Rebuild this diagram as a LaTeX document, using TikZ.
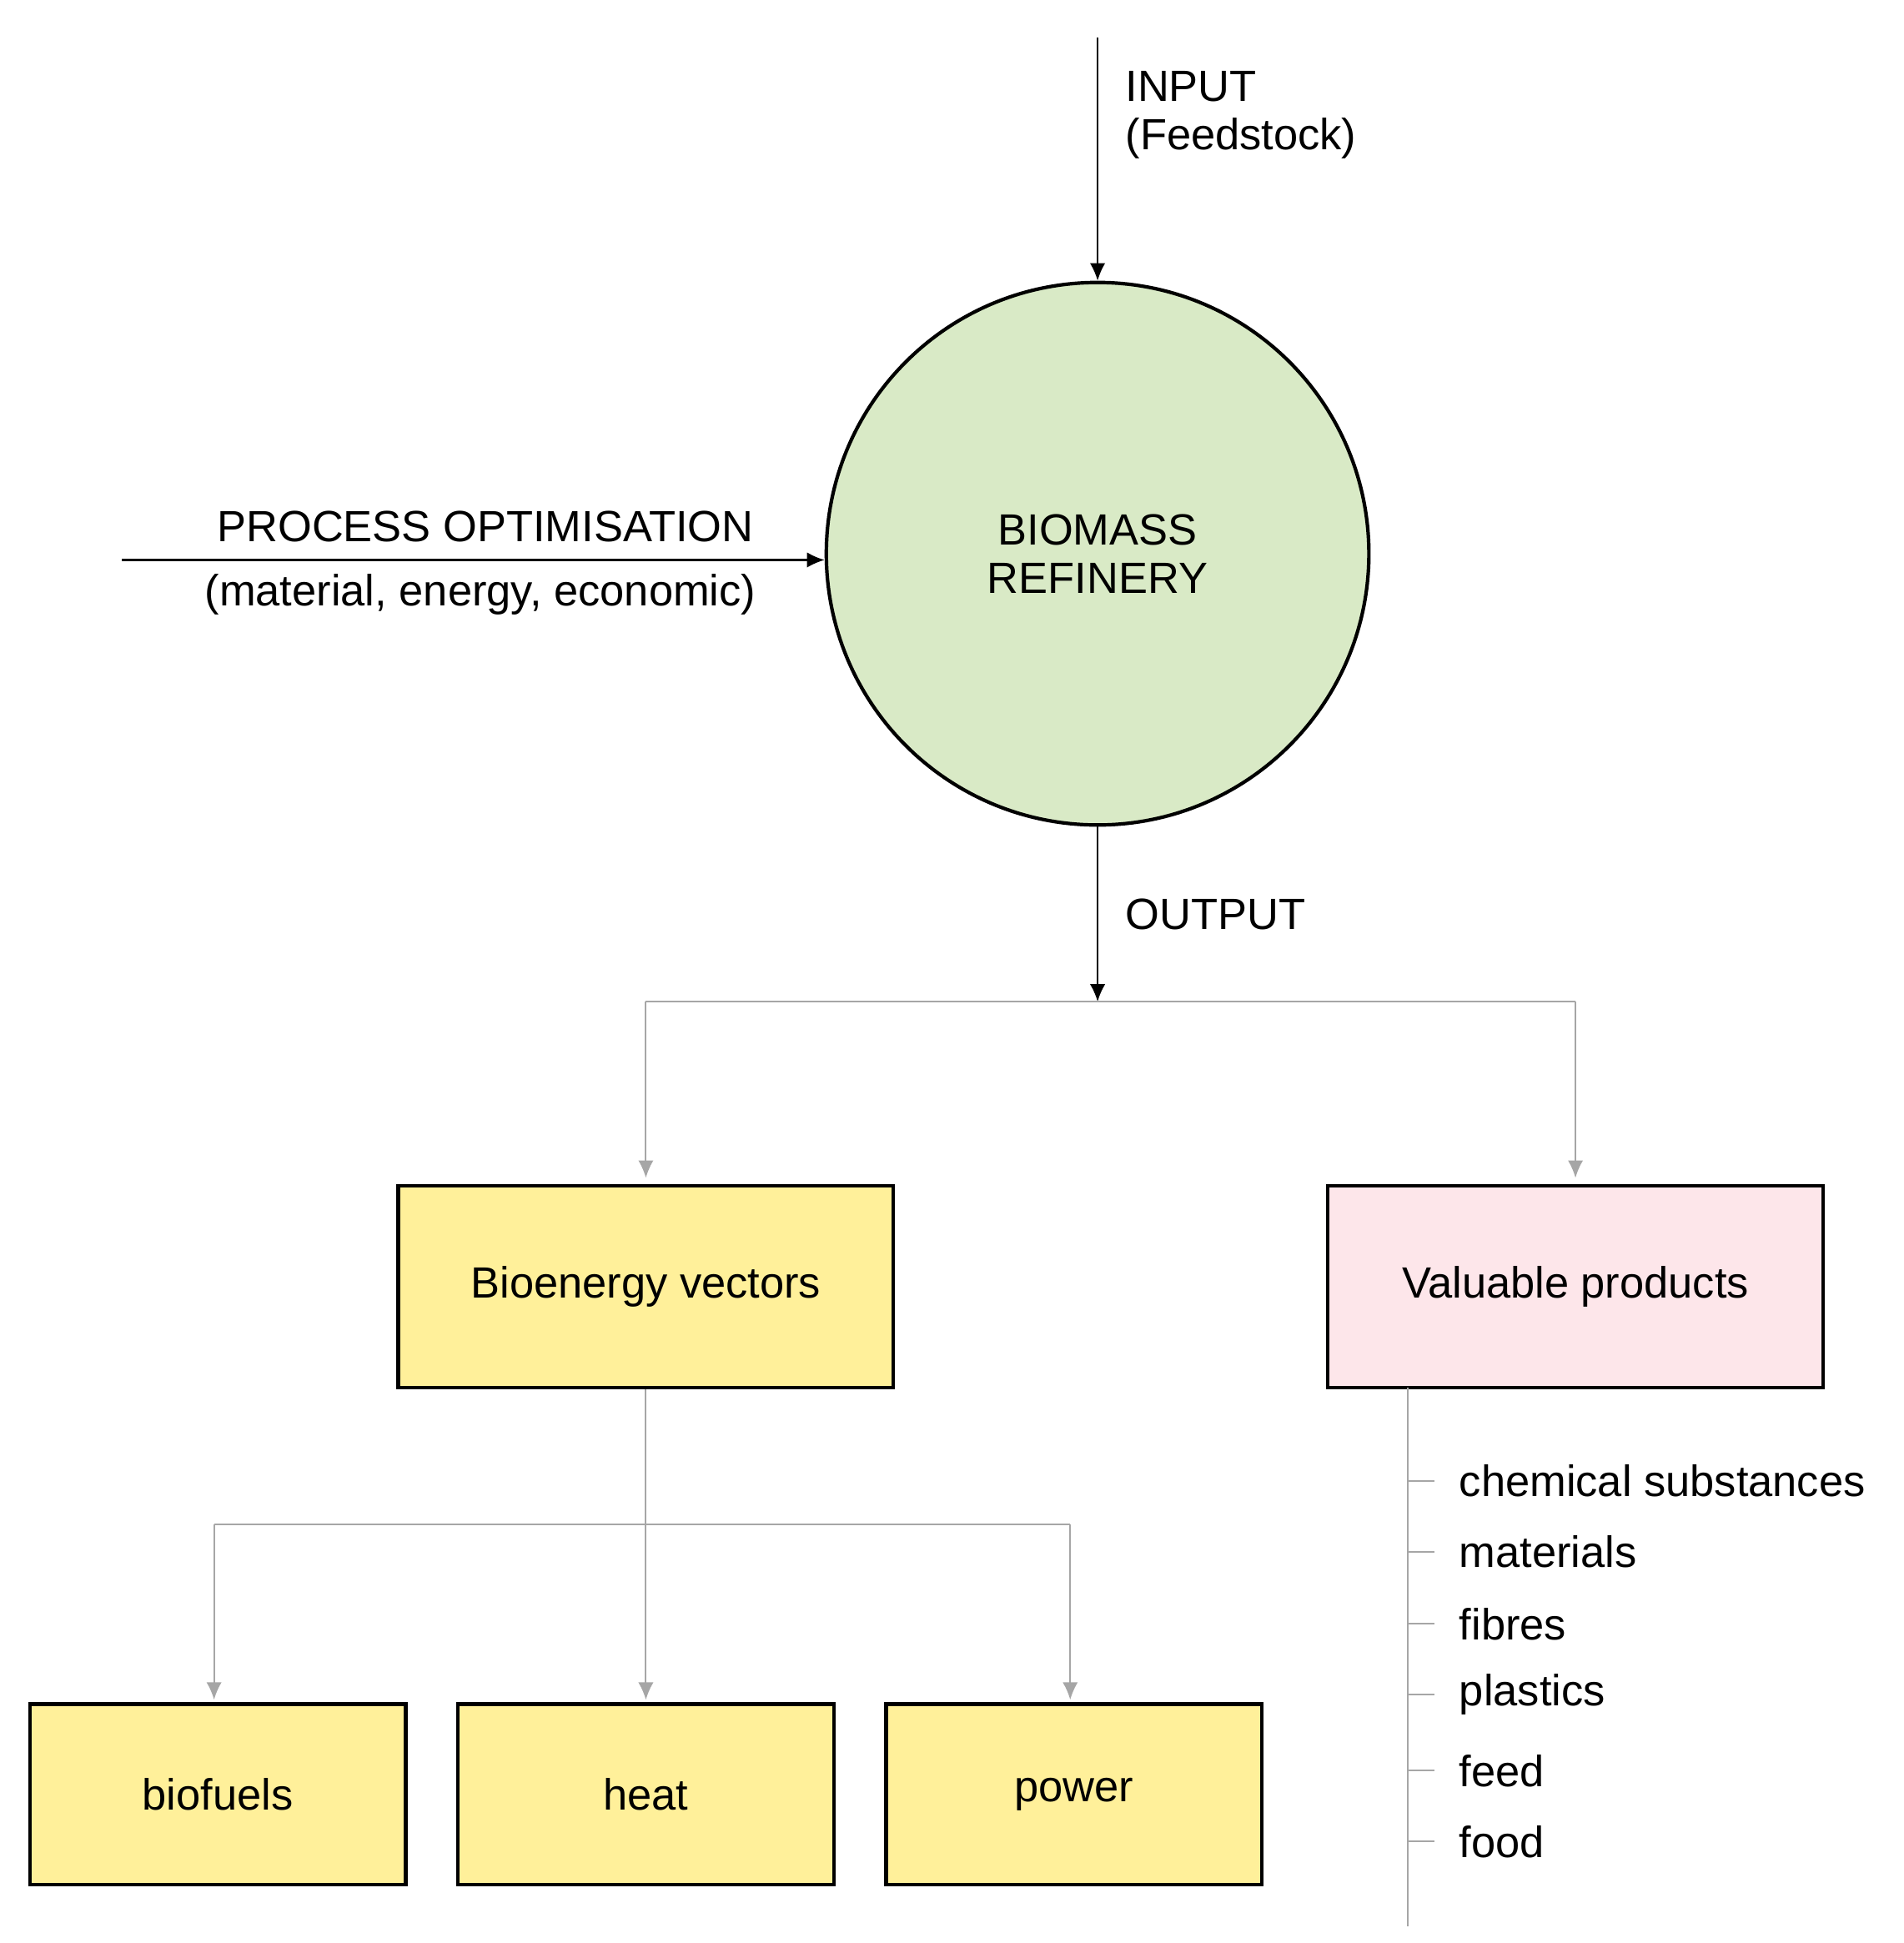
\documentclass[tikz,border=0pt]{standalone}
\usepackage{fontspec}
\setmainfont{Liberation Sans}
\usetikzlibrary{arrows.meta}
\definecolor{boxyellow}{HTML}{FFF09A}
\definecolor{boxpink}{HTML}{FDE6EA}
\definecolor{circgreen}{HTML}{D9EAC6}
\begin{document}
\begin{tikzpicture}[
		font=\fontsize{10}{11}\selectfont,
		big/.style={rectangle, draw, thick, minimum width=3.98cm, minimum height=1.62cm, align=center},
		small/.style={rectangle, draw, thick, fill=boxyellow, minimum width=3.02cm, minimum height=1.45cm, align=center},
		arrow/.style={-{Latex[length=4pt,width=3.5pt]}},
		link/.style={gray!70},
		item/.style={anchor=west, inner sep=0pt}
	]
		\useasboundingbox (0,0) rectangle (15.3,-15.615);
		% Refinery
		\node[circle, draw, thick, fill=circgreen, minimum size=4.36cm, align=center] (refinery) at (8.82,-4.45) {BIOMASS\\REFINERY};
		\coordinate (in) at (8.82,-0.3);
		\coordinate (opt) at (0.98,-4.5);
		\coordinate (split) at (8.82,-8.05);
		\draw[arrow] (in) -- (refinery.north) node[pos=0.32, right=0.1cm, align=left] {INPUT\\(Feedstock)};
		\draw[arrow] (opt) -- (refinery.west |- opt);
		\node at (3.9,-4.23) {PROCESS OPTIMISATION};
		\node at (3.86,-4.78) {(material, energy, economic)};
		\draw[arrow] (refinery.south) -- (split) node[midway, right=0.1cm] {OUTPUT};
		
		% Output boxes
		\node[big, fill=boxyellow] (vectors) at (5.19,-10.34) {Bioenergy vectors};
		\node[big, fill=boxpink] (products) at (12.66,-10.34) {Valuable products};
		\draw[link] (vectors.north |- split) -- (products.north |- split);
		\draw[arrow, link, draw=gray!70] (vectors.north |- split) -- ([yshift=0.05cm]vectors.north);
		\draw[arrow, link, draw=gray!70] (products.north |- split) -- ([yshift=0.05cm]products.north);
		\path (vectors.north |- split) -- (products.north |- split);
		
		% Bioenergy vectors
		\node[small] (biofuels) at (1.75,-14.42) {biofuels};
		\node[small] (heat) at (5.19,-14.42) {heat};
		\node[small] (power) at (8.63,-14.42) {power};
		\coordinate (fork) at (5.16,-12.25);
		\draw[link] (vectors.south) -- (vectors.south |- fork);
		\draw[link] (1.72,-12.25) -- (8.6,-12.25);
		\draw[arrow, draw=gray!70] (vectors.south |- fork) -- ([yshift=0.02cm]vectors.south |- heat.north);
		\draw[arrow, draw=gray!70] (1.72,-12.25) -- (1.72,-13.66);
		\draw[arrow, draw=gray!70] (8.6,-12.25) -- (8.6,-13.66);
		
		% Valuable products
		\draw[link] (11.31,-11.15) -- (11.31,-15.48);
		\foreach \y/\txt in {11.9/chemical substances, 12.47/materials, 13.05/fibres, 13.62/plastics, 14.23/feed, 14.8/food}
			{\draw[link] (11.31,-\y) -- (11.53,-\y);
			 \node[item] at (11.72,-\y) {\txt};}
	\end{tikzpicture}
\end{document}
